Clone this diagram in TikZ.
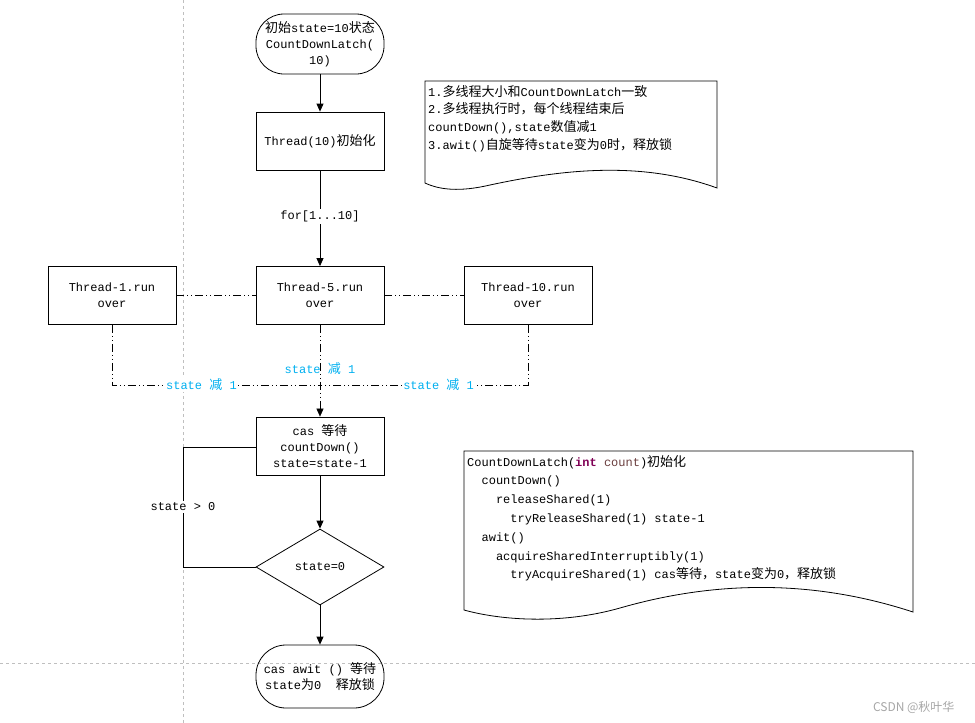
\documentclass[tikz,border=0pt]{standalone}
\usepackage{fontspec}
\setmainfont{Liberation Mono}
\newfontfamily\cjk{Noto Sans CJK SC}
\newcommand{\zh}[1]{{\cjk\fontsize{13}{16}\selectfont #1}}
\usetikzlibrary{shapes.geometric,arrows.meta}
\definecolor{lblue}{RGB}{0,176,240}
\begin{document}
\begin{tikzpicture}[x=1pt,y=-1pt,font=\fontsize{12}{16}\selectfont,
  box/.style={draw,line width=0.8pt,minimum width=128pt,minimum height=58pt,align=center,inner sep=1pt},
  term/.style={box,rounded corners=28pt,minimum height=60pt},
  arr/.style={line width=0.8pt,-{Triangle[length=8pt,width=7pt]}},
  dd/.style={line width=0.6pt,dash pattern=on 8pt off 3pt on 1pt off 3pt on 1pt off 3pt},
  lbl/.style={fill=white,inner sep=1pt,text=lblue}]
\useasboundingbox (0,0) rectangle (975,723);
\draw[gray!50,dashed,line width=0.8pt] (183,0) -- (183,723);
\draw[gray!50,dashed,line width=0.8pt] (0,663) -- (975,663);
\node[term] (start) at (320,44) {\zh{初始}state=10\zh{状态}\\CountDownLatch(\\10)};
\node[box] (init) at (320,141) {Thread(10)\zh{初始化}};
\node[box] (t1) at (112,295.5) {Thread-1.run\\over};
\node[box] (t5) at (320,295.5) {Thread-5.run\\over};
\node[box] (t10) at (528,295.5) {Thread-10.run\\over};
\node[box] (cas) at (320,446) {cas \zh{等待}\\countDown()\\state=state-1};
\node[draw,diamond,aspect=1.684,line width=0.8pt,minimum width=128pt,minimum height=76pt,inner sep=0pt] (dec) at (320,567) {state=0};
\node[term,minimum height=63pt,rounded corners=30pt] (end) at (320,676.5) {cas awit () \zh{等待}\\state\zh{为}0\ \ \zh{释放锁}};
\draw[arr] (start) -- (init);
\draw[arr] (init) -- node[fill=white,inner sep=2pt,pos=0.48]{for[1...10]} (t5);
\draw[dd] (t1) -- (t5);
\draw[dd] (t5) -- (t10);
\coordinate (j1) at (112,385);
\coordinate (j2) at (528,385);
\draw[dd] (t1.south) -- (j1) -- node[lbl,pos=0.43]{state \zh{减} 1} (320,385);
\draw[dd] (t10.south) -- (j2) -- node[lbl,pos=0.43]{state \zh{减} 1} (320,385);
\draw[dd,-{Triangle[length=8pt,width=7pt]}] (t5) -- node[lbl,pos=0.48,fill=none]{state \zh{减} 1} (cas);
\draw[arr] (cas) -- (dec);
\draw[arr] (dec) -- (end);
\coordinate (l1) at (183,567);
\coordinate (l2) at (183,447);
\draw[line width=0.8pt] (dec.west) -- (l1) -- node[fill=white,inner sep=2pt,pos=0.5]{state > 0} (l2) -- (cas.west |- l2);
\draw[line width=0.8pt] (425,81) -- (717,81) -- (717,188) .. controls (640,160) and (560,170) .. (490,185) .. controls (460,192) and (440,190) .. (425,183) -- cycle;
\node[anchor=north west,align=left,inner sep=0pt,font=\fontsize{12}{17.8}\selectfont] (n1) at (428,85) {1.\zh{多线程大小和}CountDownLatch\zh{一致}\\2.\zh{多线程执行时，每个线程结束后}\\countDown(),state\zh{数值减}1\\3.awit()\zh{自旋等待}state\zh{变为}0\zh{时，释放锁}};
\draw[line width=0.8pt] (464,451) -- (913,451) -- (913,612) .. controls (800,575) and (700,585) .. (620,608) .. controls (560,625) and (500,620) .. (464,610) -- cycle;
\node[anchor=north west,align=left,inner sep=0pt,font=\fontsize{12}{18.8}\selectfont] (n2) at (467,455) {CountDownLatch(\textcolor[RGB]{127,0,85}{\bfseries int} \textcolor[RGB]{106,62,62}{count})\zh{初始化}\\
\ \ countDown()\\
\ \ \ \ releaseShared(1)\\
\ \ \ \ \ \ tryReleaseShared(1) state-1\\
\ \ awit()\\
\ \ \ \ acquireSharedInterruptibly(1)\\
\ \ \ \ \ \ tryAcquireShared(1) cas\zh{等待，}state\zh{变为}0\zh{，释放锁}};
\node[anchor=east,text=gray!70,font=\cjk\fontsize{12}{14}\selectfont] (wm) at (958,707) {CSDN @秋叶华};
\end{tikzpicture}
\end{document}
